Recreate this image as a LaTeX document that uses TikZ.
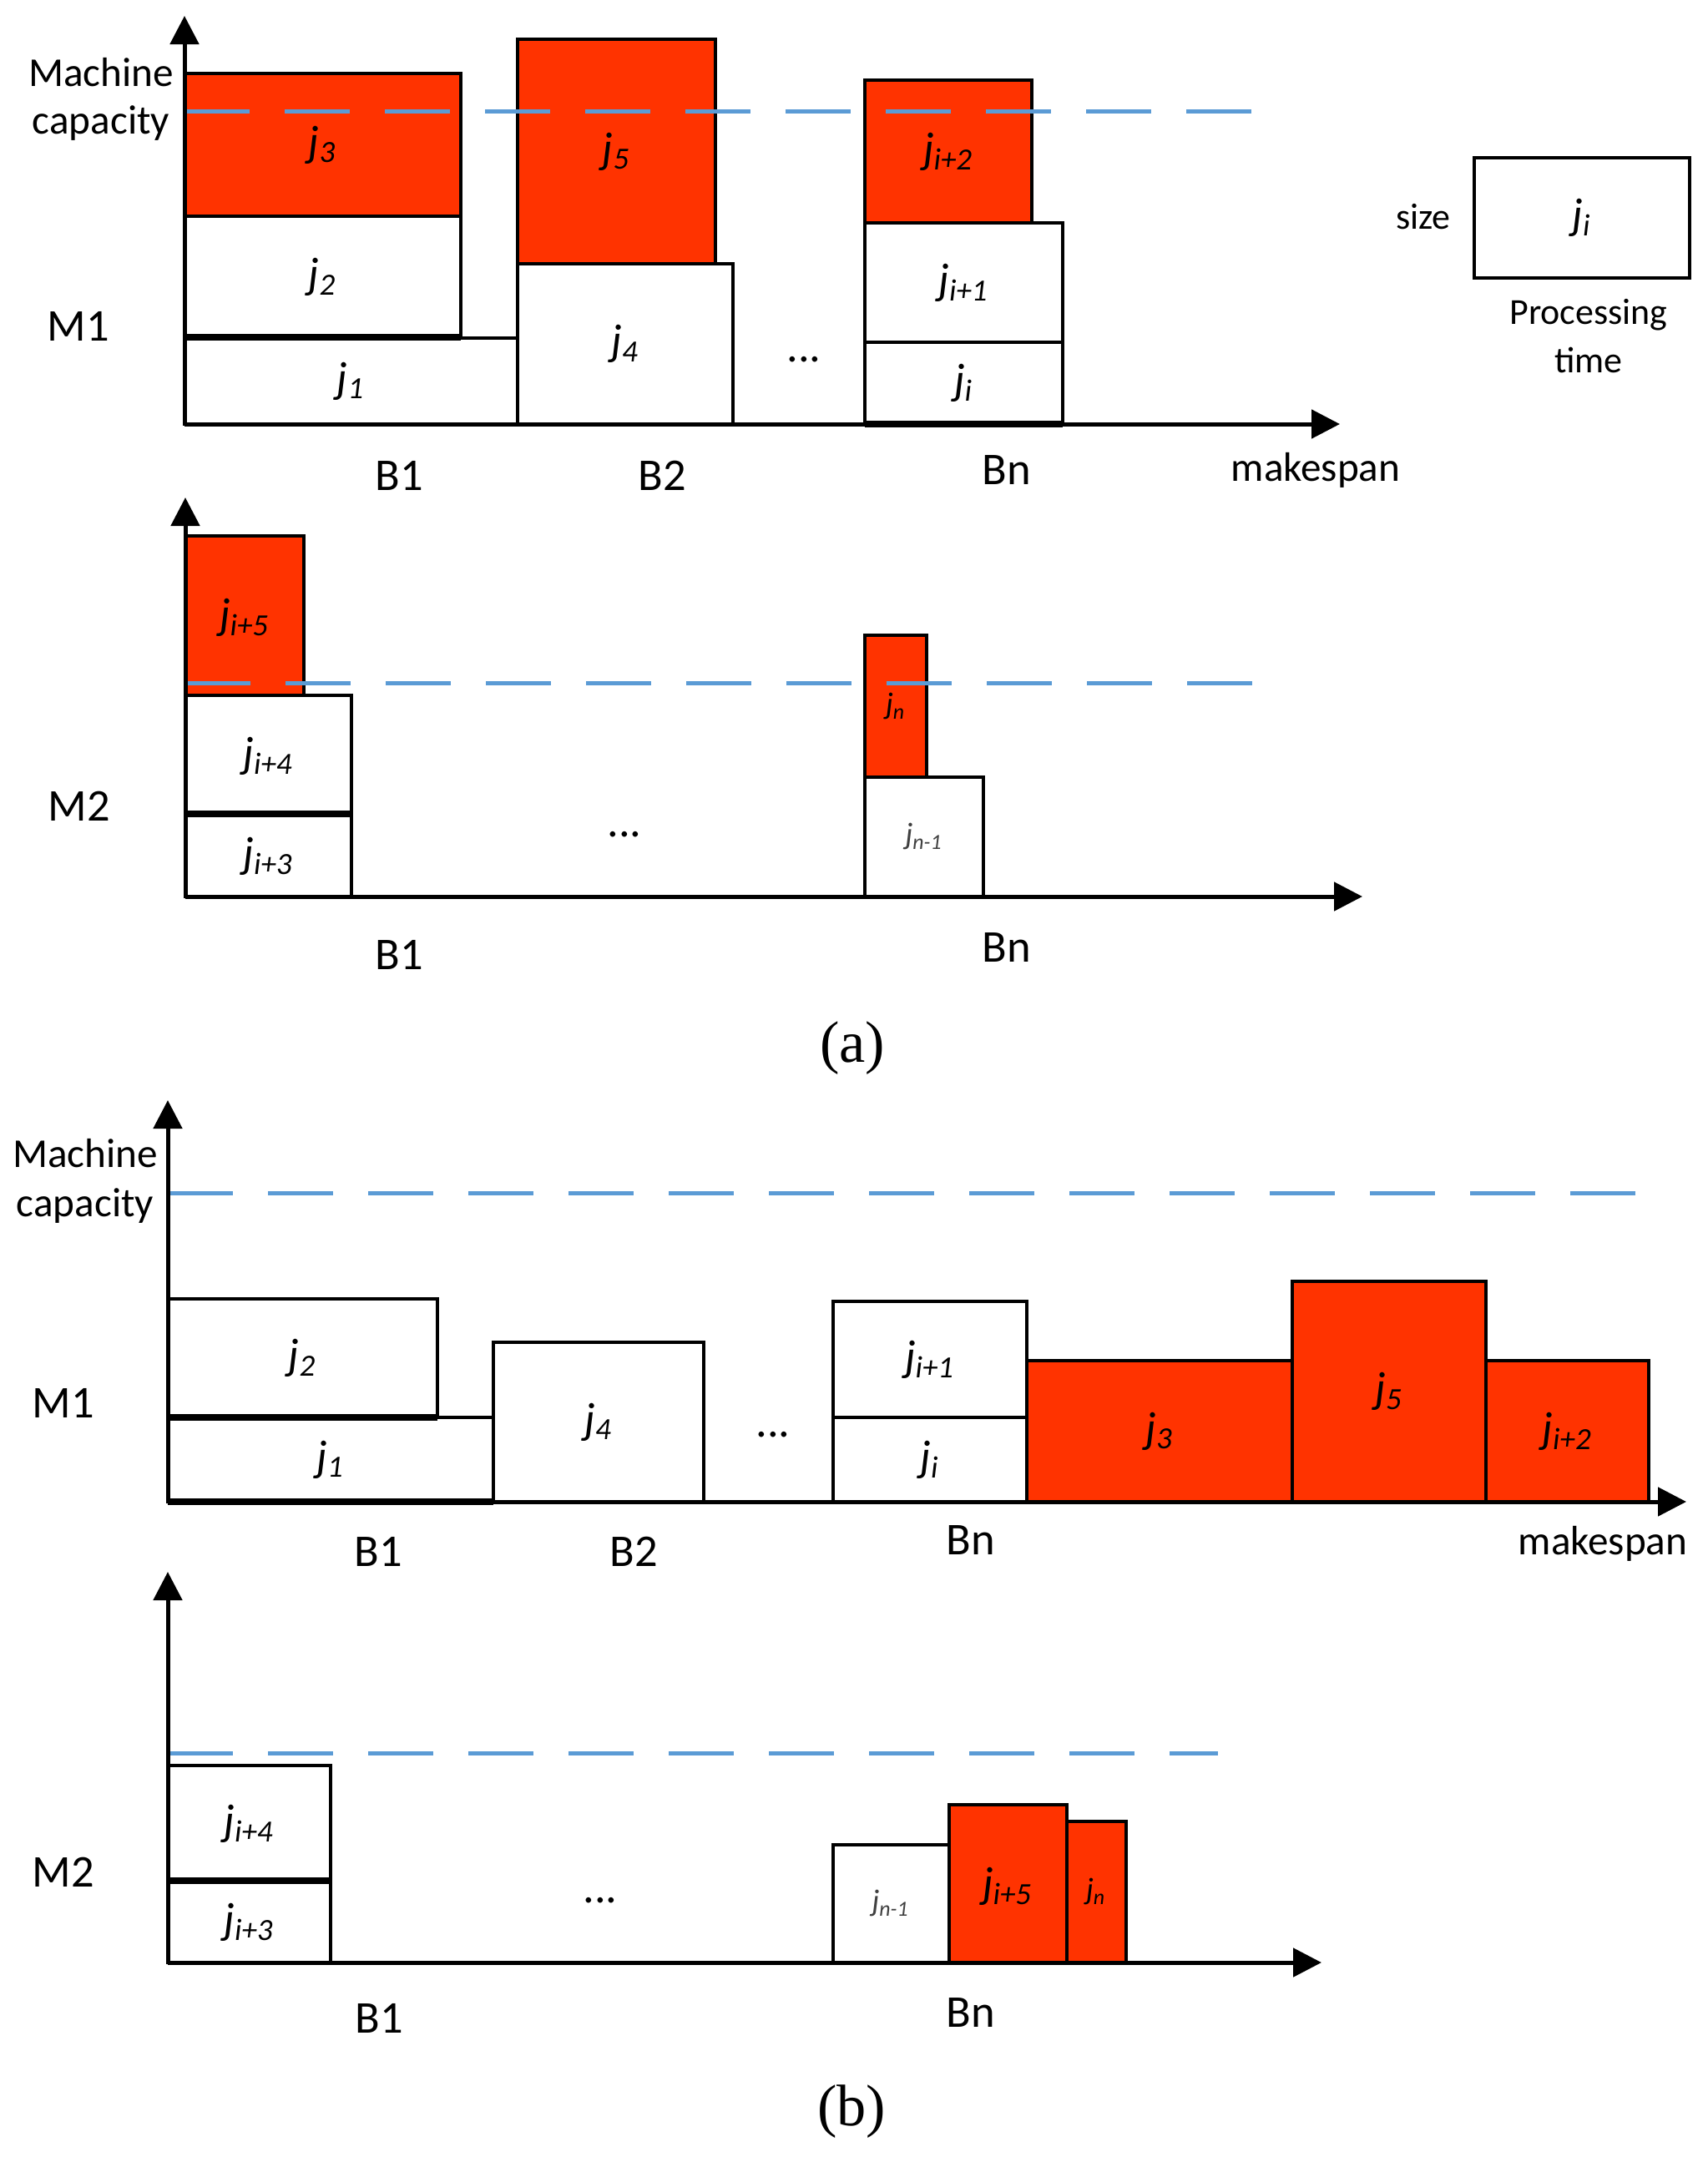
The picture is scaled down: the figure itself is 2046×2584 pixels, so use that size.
\documentclass[tikz,border=0pt]{standalone}
\usepackage{fontspec}
\setmainfont{Carlito}
\newfontfamily\subfigfont{Liberation Serif}
\usetikzlibrary{arrows.meta}
\definecolor{jobred}{RGB}{255,51,0}
\definecolor{capblue}{RGB}{91,155,213}
\newcommand{\job}[1]{\textit{j}\textsubscript{\textit{#1}}}

\begin{document}
\begin{tikzpicture}[x=0.1mm,y=-0.1mm,
    box/.style={draw=black,fill=white,line width=0.45mm},
    hot/.style={draw=black,fill=jobred,line width=0.45mm},
    axis/.style={line width=0.5mm,-{Triangle[length=3.4mm,width=3.4mm]}},
    bar/.style={line width=0.8mm},
    limit/.style={capblue,line width=0.5mm,dash pattern=on 7.8mm off 4.2mm},
    lbl/.style={font=\fontsize{15}{18}\selectfont,inner sep=0pt},
    smalllbl/.style={font=\fontsize{10.5}{12}\selectfont,inner sep=0pt},
    txt/.style={font=\fontsize{15.5}{18}\selectfont,anchor=base,inner sep=0pt},
    note/.style={font=\fontsize{14}{17}\selectfont,anchor=base,inner sep=0pt},
    legend/.style={font=\fontsize{12.5}{15}\selectfont,anchor=base,inner sep=0pt},
    subfig/.style={font=\subfigfont\fontsize{20}{24}\selectfont,anchor=base,inner sep=0pt}]

    \fill[white] (0,0) rectangle (2046,2584);
    \useasboundingbox (0,0) rectangle (2046,2584);

    % (a) M1
    \draw[box] (221,405) rectangle (620,508);
    \draw[box] (221,259) rectangle (552,405);
    \draw[hot] (221,88) rectangle (552,259);
    \draw[box] (620,316) rectangle (878,508);
    \draw[hot] (620,47) rectangle (857,316);
    \draw[box] (1036,410) rectangle (1273,508);
    \draw[box] (1036,267) rectangle (1273,410);
    \draw[hot] (1036,96) rectangle (1236,267);
    \draw[bar] (221,404) -- (552,404);
    \draw[bar] (1036,508) -- (1273,508);
    \draw[limit] (221,133) -- (1507,133);

    \coordinate (oa1) at (221,508);
    \coordinate (ya1) at (221,19);
    \coordinate (xa1) at (1605,508);
    \draw[axis] (oa1) -- (ya1);
    \draw[axis] (oa1) -- (xa1);

    \node[lbl] (a1) at (420.5,456.5) {\job{1}};
    \node[lbl] (a2) at (386.5,332) {\job{2}};
    \node[lbl] (a3) at (386.5,173.5) {\job{3}};
    \node[lbl] (a4) at (749,412) {\job{4}};
    \node[lbl] (a5) at (738.5,181.5) {\job{5}};
    \node[lbl] (ai) at (1154.5,459) {\job{i}};
    \node[lbl] (ai1) at (1154.5,338.5) {\job{i+1}};
    \node[lbl] (ai2) at (1136,181.5) {\job{i+2}};

    \node[note] (mach1) at (121,103) {Machine};
    \node[note] (capa1) at (121,160) {capacity};
    \node[txt] (m1a) at (94,408) {M1};
    \node[txt] (dotsa1) at (963,433) {...};
    \node[txt] (b1a) at (478,587) {B1};
    \node[txt] (b2a) at (793,587) {B2};
    \node[txt] (bna) at (1206,580) {Bn};
    \node[note] (mka) at (1576,576) {makespan};

    % leyenda
    \draw[box] (1766,189) rectangle (2024,333);
    \node[lbl] (leg) at (1895,261) {\job{i}};
    \node[legend] (size) at (1705,274) {size};
    \node[legend] (proc) at (1903,388) {Processing};
    \node[legend] (time) at (1903,446) {time};

    % (a) M2
    \draw[box] (222,975) rectangle (421,1074);
    \draw[box] (222,833) rectangle (421,975);
    \draw[hot] (222,642) rectangle (364,833);
    \draw[box] (1036,931) rectangle (1178,1074);
    \draw[hot] (1036,761) rectangle (1110,931);
    \draw[bar] (222,975) -- (421,975);
    \draw[limit] (222,818) -- (1505,818);

    \coordinate (oa2) at (222,1074);
    \coordinate (ya2) at (222,596);
    \coordinate (xa2) at (1632,1074);
    \draw[axis] (oa2) -- (ya2);
    \draw[axis] (oa2) -- (xa2);

    \node[lbl] (ai3) at (321.5,1026) {\job{i+3}};
    \node[lbl] (ai4) at (321.5,906) {\job{i+4}};
    \node[lbl] (ai5) at (293,740) {\job{i+5}};
    \node[smalllbl,black!75] (anm) at (1107,1002) {\job{n-1}};
    \node[smalllbl] (an) at (1073,846) {\job{n}};

    \node[txt] (m2a) at (95,983) {M2};
    \node[txt] (dotsa2) at (748,1002) {...};
    \node[txt] (b1a2) at (478,1161) {B1};
    \node[txt] (bna2) at (1206,1152) {Bn};

    \node[subfig] (capa) at (1021,1272) {(a)};

    % (b) M1
    \draw[box] (201,1698) rectangle (591,1799);
    \draw[box] (201,1556) rectangle (524,1698);
    \draw[box] (591,1608) rectangle (843,1799);
    \draw[box] (998,1698) rectangle (1230,1799);
    \draw[box] (998,1559) rectangle (1230,1698);
    \draw[hot] (1230,1630) rectangle (1548,1799);
    \draw[hot] (1548,1535) rectangle (1780,1799);
    \draw[hot] (1780,1630) rectangle (1975,1799);
    \draw[bar] (201,1698) -- (524,1698);
    \draw[bar] (201,1799) -- (591,1799);
    \draw[limit] (201,1429) -- (1975,1429);

    \coordinate (ob1) at (201,1799);
    \coordinate (yb1) at (201,1318);
    \coordinate (xb1) at (2020,1799);
    \draw[axis] (ob1) -- (yb1);
    \draw[axis] (ob1) -- (xb1);

    \node[lbl] (b1) at (396,1748.5) {\job{1}};
    \node[lbl] (b2) at (362.5,1627) {\job{2}};
    \node[lbl] (b4) at (717,1703.5) {\job{4}};
    \node[lbl] (bi) at (1114,1748.5) {\job{i}};
    \node[lbl] (bi1) at (1114,1628.5) {\job{i+1}};
    \node[lbl] (b3) at (1389,1714.5) {\job{3}};
    \node[lbl] (b5) at (1664,1667) {\job{5}};
    \node[lbl] (bi2) at (1877.5,1714.5) {\job{i+2}};

    \node[note] (mach2) at (102,1398) {Machine};
    \node[note] (capa2) at (102,1457) {capacity};
    \node[txt] (m1b) at (76,1698) {M1};
    \node[txt] (dotsb1) at (926,1721) {...};
    \node[txt] (b1b) at (453,1876) {B1};
    \node[txt] (b2b) at (759,1876) {B2};
    \node[txt] (bnb) at (1163,1862) {Bn};
    \node[note] (mkb) at (1920,1862) {makespan};

    % (b) M2
    \draw[box] (201,2253) rectangle (396,2351);
    \draw[box] (201,2115) rectangle (396,2253);
    \draw[box] (998,2210) rectangle (1137,2351);
    \draw[hot] (1137,2162) rectangle (1278,2351);
    \draw[hot] (1278,2182) rectangle (1349,2351);
    \draw[bar] (201,2253) -- (396,2253);
    \draw[limit] (201,2100) -- (1459,2100);

    \coordinate (ob2) at (201,2351);
    \coordinate (yb2) at (201,1883);
    \coordinate (xb2) at (1583,2351);
    \draw[axis] (ob2) -- (yb2);
    \draw[axis] (ob2) -- (xb2);

    \node[lbl] (bi3) at (298.5,2303) {\job{i+3}};
    \node[lbl] (bi4) at (298.5,2185) {\job{i+4}};
    \node[smalllbl,black!75] (bnm) at (1067,2280) {\job{n-1}};
    \node[lbl] (bi5) at (1207,2260) {\job{i+5}};
    \node[smalllbl] (bn) at (1313,2266) {\job{n}};

    \node[txt] (m2b) at (76,2260) {M2};
    \node[txt] (dotsb2) at (719,2279) {...};
    \node[txt] (b1b2) at (454,2435) {B1};
    \node[txt] (bnb2) at (1163,2428) {Bn};

    \node[subfig] (capb) at (1020,2546) {(b)};
\end{tikzpicture}
\end{document}
